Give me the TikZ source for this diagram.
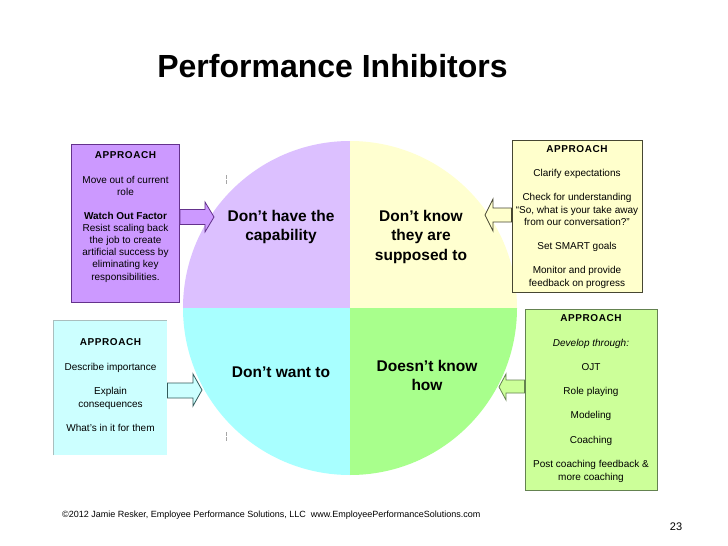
\documentclass[tikz,border=0pt]{standalone}
\usepackage{fontspec}
\setmainfont{Liberation Sans}
\definecolor{qpur}{RGB}{220,192,255}
\definecolor{qyel}{RGB}{255,255,208}
\definecolor{qcya}{RGB}{168,255,255}
\definecolor{qgrn}{RGB}{168,255,140}
\definecolor{bpur}{RGB}{204,153,255}
\definecolor{bpurd}{RGB}{100,50,140}
\definecolor{byel}{RGB}{255,255,204}
\definecolor{byeld}{RGB}{70,70,50}
\definecolor{bcya}{RGB}{204,255,255}
\definecolor{bcyad}{RGB}{50,90,90}
\definecolor{bcyal}{RGB}{170,190,190}
\definecolor{bgrn}{RGB}{204,255,153}
\definecolor{bgrnd}{RGB}{100,130,80}
\tikzset{
  bx/.style={minimum width=#1, inner sep=0, line width=0.8},
  bt/.style={font=\fontsize{10}{12}\selectfont, anchor=base, inner sep=0},
  bh/.style={font=\bfseries\fontsize{10}{12}\selectfont\addfontfeature{LetterSpace=6}, anchor=base, inner sep=0},
  ql/.style={font=\bfseries\fontsize{15.5}{19}\selectfont, anchor=base, inner sep=0},
  blk/.style={line width=0.8, line join=miter}
}
\begin{document}
\begin{tikzpicture}[x=1pt,y=-1pt]
\useasboundingbox (0,0) rectangle (728,546);
\fill[white] (0,0) rectangle (728,546);
% title
\node[font=\bfseries\fontsize{32}{38}\selectfont, anchor=base, inner sep=0] (title) at (332.5,77) {Performance Inhibitors};
% circle quadrants
\begin{scope}
\clip (350,308) circle[radius=167];
\fill[qpur] (170,130) rectangle (350,308);
\fill[qyel] (350,130) rectangle (530,308);
\fill[qcya] (170,308) rectangle (350,490);
\fill[qgrn] (350,308) rectangle (530,490);
\end{scope}
% small tick marks
\draw[gray!70, line width=0.6] (226,175) -- (226,178.5) (226,180) -- (226,184);
\draw[gray!70, line width=0.6] (226,432) -- (226,435.5) (226,437) -- (226,441);
% quadrant labels
\node[ql] (q1a) at (281,221) {Don’t have the};
\node[ql] (q1b) at (281,240.5) {capability};
\node[ql] (q2a) at (421,221) {Don’t know};
\node[ql] (q2b) at (421,240.5) {they are};
\node[ql] (q2c) at (421,260) {supposed to};
\node[ql] (q3a) at (281,377.5) {Don’t want to};
\node[ql] (q4a) at (427,371) {Doesn’t know};
\node[ql] (q4b) at (427,390.5) {how};
% boxes
\node[bx=108, minimum height=158, draw=bpurd, fill=bpur] (pb) at (125.5,223.5) {};
\node[bx=130, minimum height=152, draw=byeld, fill=byel] (yb) at (577,216) {};
\node[bx=132, minimum height=181, draw=bgrnd, fill=bgrn] (gb) at (591,399.5) {};
\node[bx=113, minimum height=134, fill=bcya] (cb) at (110.5,388) {};
\draw[bcyal, line width=0.8] (cb.south west) -- (cb.north west) -- (cb.north east);
% block arrows
\filldraw[blk, fill=bpur, draw=bpurd] (pb.east |- 0,209.5) -- (205,209.5) -- (205,202) -- (214,217) -- (205,232) -- (205,224.5) -- (pb.east |- 0,224.5) -- cycle;
\filldraw[blk, fill=byel, draw=byeld] (yb.west |- 0,208) -- (493,208) -- (493,199) -- (485,215) -- (493,231) -- (493,222) -- (yb.west |- 0,222) -- cycle;
\filldraw[blk, fill=bcya, draw=bcyad] (cb.east |- 0,383) -- (193,383) -- (193,374) -- (202,390) -- (193,406) -- (193,398) -- (cb.east |- 0,398) -- cycle;
\filldraw[blk, fill=bgrn, draw=bgrnd] (gb.west |- 0,380) -- (506,380) -- (506,374) -- (499,387) -- (506,400) -- (506,393) -- (gb.west |- 0,393) -- cycle;
% purple box text
\node[bh] (p1) at (125.5,158) {APPROACH};
\node[bt] (p2) at (125.5,183) {Move out of current};
\node[bt] (p3) at (125.5,195) {role};
\node[bt, font=\bfseries\fontsize{10}{12}\selectfont] (p4) at (125.5,219) {Watch Out Factor};
\node[bt] (p5) at (125.5,231.2) {Resist scaling back};
\node[bt] (p6) at (125.5,243.4) {the job to create};
\node[bt] (p7) at (125.5,255.6) {artificial success by};
\node[bt] (p8) at (125.5,267.8) {eliminating key};
\node[bt] (p9) at (125.5,280) {responsibilities.};
% yellow box text
\node[bh] (y1) at (577,152) {APPROACH};
\node[bt] (y2) at (577,176.5) {Clarify expectations};
\node[bt] (y3) at (577,200.5) {Check for understanding};
\node[bt] (y4) at (577,213) {“So, what is your take away};
\node[bt] (y5) at (577,225.5) {from our conversation?”};
\node[bt] (y6) at (577,249) {Set SMART goals};
\node[bt] (y7) at (577,273.5) {Monitor and provide};
\node[bt] (y8) at (577,286) {feedback on progress};
% green box text
\node[bh] (g1) at (591,321.5) {APPROACH};
\node[bt, font=\itshape\fontsize{10}{12}\selectfont] (g2) at (591,346.5) {Develop through:};
\node[bt] (g3) at (591,370.5) {OJT};
\node[bt] (g4) at (591,394.5) {Role playing};
\node[bt] (g5) at (591,418.5) {Modeling};
\node[bt] (g6) at (591,443.5) {Coaching};
\node[bt] (g7) at (591,467.5) {Post coaching feedback \&};
\node[bt] (g8) at (591,480) {more coaching};
% cyan box text
\node[bh] (c1) at (110.5,345.5) {APPROACH};
\node[bt] (c2) at (110.5,370.5) {Describe importance};
\node[bt] (c3) at (110.5,394.5) {Explain};
\node[bt] (c4) at (110.5,407) {consequences};
\node[bt] (c5) at (110.5,431.5) {What’s in it for them};
% footer
\node[font=\fontsize{9}{10}\selectfont, anchor=base west, inner sep=0] (foot) at (62,517) {©2012 Jamie Resker, Employee Performance Solutions, LLC\ \ www.EmployeePerformanceSolutions.com};
\node[font=\fontsize{11}{13}\selectfont, anchor=base, inner sep=0] (pg) at (676,530) {23};
\end{tikzpicture}
\end{document}
